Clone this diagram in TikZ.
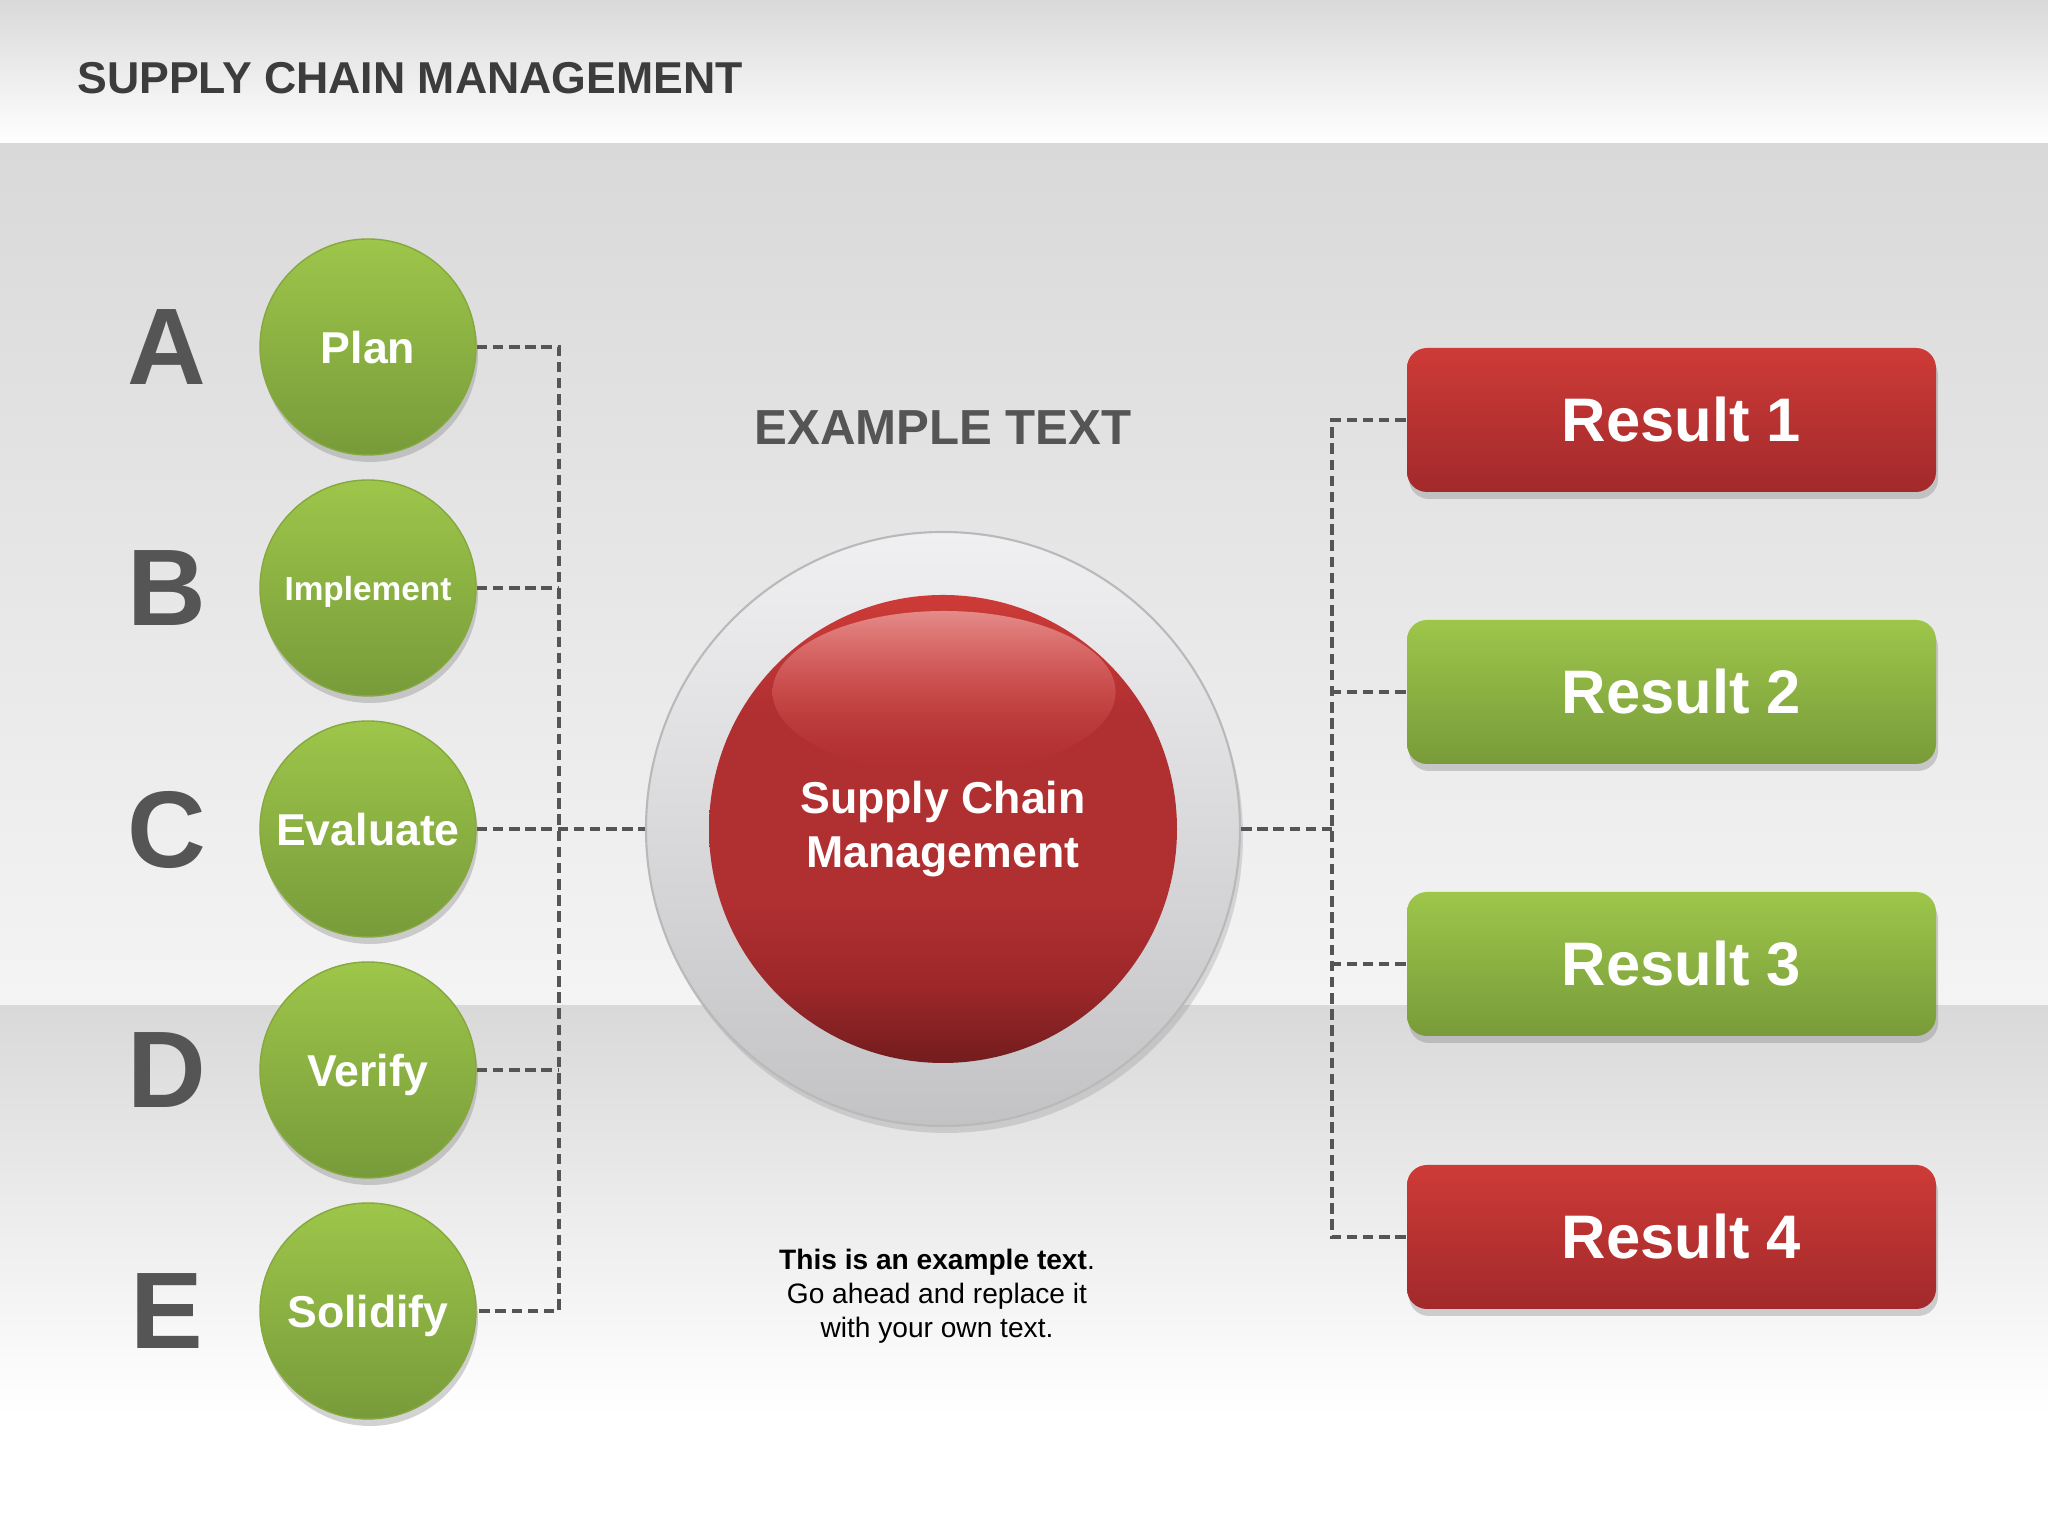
\documentclass[tikz,border=0pt]{standalone}
\usepackage{fontspec}
\setmainfont{Liberation Sans}
\usepackage{xcolor}
\usepackage{tikz}
\usetikzlibrary{positioning, calc, shadows, fadings, backgrounds}

\definecolor{greentop}{HTML}{9DC64A}
\definecolor{greenbot}{HTML}{789B3A}
\definecolor{redtop}{HTML}{CD3B37}
\definecolor{redbot}{HTML}{A2292B}
\definecolor{coremid}{HTML}{B02F31}
\definecolor{corelow}{HTML}{9C2729}
\definecolor{corebot}{HTML}{731C1E}
\definecolor{glosstop}{HTML}{E48C8A}
\definecolor{inktext}{HTML}{555555}
\definecolor{titletext}{HTML}{3C3C3C}
\definecolor{bgtop}{HTML}{D9D9D9}
\definecolor{bgmid}{HTML}{F4F4F5}
\definecolor{ringtop}{HTML}{F0F0F2}
\definecolor{ringbot}{HTML}{C3C3C6}

\pgfdeclareverticalshading{coreshade}{100bp}{color(0bp)=(corebot); color(25bp)=(corebot); color(33bp)=(corelow); color(42bp)=(coremid); color(62bp)=(coremid); color(75bp)=(redtop); color(100bp)=(redtop)}

\begin{document}
\begin{tikzpicture}[thick,
    stage/.style={circle, minimum size=2.16cm, inner sep=0pt, top color=greentop, bottom color=greenbot, draw=greentop!85!black, line width=0.4pt, text=white, text depth=0pt, font=\bfseries\fontsize{12.7}{15}\selectfont, drop shadow={opacity=0.35, shadow xshift=0.02cm, shadow yshift=-0.07cm}},
    letter/.style={text=inktext, text depth=0pt, font=\bfseries\fontsize{31}{31}\selectfont},
    result/.style={rectangle, rounded corners=0.2cm, minimum width=5.29cm, minimum height=1.44cm, inner sep=0pt, text=white, font=\bfseries\fontsize{17.5}{20}\selectfont, execute at begin node={\hspace*{0.2cm}}, drop shadow={opacity=0.35, shadow xshift=0.02cm, shadow yshift=-0.07cm}},
    redfill/.style={top color=redtop, bottom color=redbot},
    greenfill/.style={top color=greentop, bottom color=greenbot},
    link/.style={draw=inktext, line width=1.1pt, dash pattern=on 3pt off 1.6pt}]

    \useasboundingbox (0, 0) rectangle (20.48, 15.36);
    \shade [top color=bgtop, bottom color=white] (0, 13.92) rectangle (20.48, 15.36);
    \shade [top color=bgtop, bottom color=bgmid] (0, 5.30) rectangle (20.48, 13.92);
    \fill [white] (0, 0) rectangle (20.48, 5.30);
    \shade [top color=bgtop, bottom color=white] (0, 1.2) rectangle (20.48, 5.30);

    \node [text=titletext, text depth=0pt, font=\bfseries\fontsize{12.7}{15}\selectfont, anchor=west, inner sep=0pt] (title) at (0.76, 14.58) {SUPPLY CHAIN MANAGEMENT};

    \node [letter] (la) at (1.67, 11.89) {A};
    \node [letter] (lb) at (1.67, 9.48) {B};
    \node [letter] (lc) at (1.67, 7.07) {C};
    \node [letter] (ld) at (1.67, 4.66) {D};
    \node [letter] (le) at (1.67, 2.25) {E};

    \node [stage] (plan) at (3.68, 11.89) {Plan};
    \node [stage, font=\bfseries\fontsize{9.5}{11}\selectfont] (implement) at (3.68, 9.48) {Implement};
    \node [stage] (evaluate) at (3.68, 7.07) {Evaluate};
    \node [stage] (verify) at (3.68, 4.66) {Verify};
    \node [stage] (solidify) at (3.68, 2.25) {Solidify};

    \node [text=inktext, font=\bfseries\fontsize{14}{16}\selectfont] (example) at (9.43, 11.08) {EXAMPLE TEXT};

    \node [circle, minimum size=5.94cm, top color=ringtop, bottom color=ringbot, draw=gray!55, line width=0.6pt, drop shadow={opacity=0.25, shadow xshift=0.03cm, shadow yshift=-0.07cm}] (ring) at (9.43, 7.07) {};
    \node [circle, minimum size=4.68cm, shading=coreshade] (core) at (ring) {};
    \shade [top color=glosstop, bottom color=redtop, path fading=south] (9.44, 8.44) ellipse [x radius=1.715cm, y radius=0.81cm];
    \node [align=center, text=white, font=\bfseries\fontsize{12.7}{15.4}\selectfont] (corelabel) at (core) {Supply Chain\\Management};

    \node [result, redfill] (res1) at (16.715, 11.16) {Result 1};
    \node [result, greenfill] (res2) at (16.715, 8.44) {Result 2};
    \node [result, greenfill] (res3) at (16.715, 5.72) {Result 3};
    \node [result, redfill] (res4) at (16.715, 2.99) {Result 4};

    \node [align=center, font=\fontsize{8}{9.7}\selectfont] (note) at (9.37, 2.40) {\textbf{This is an example text}.\\Go ahead and replace it\\with your own text.};

    \coordinate (busL) at (5.59, 7.07);
    \coordinate (busR) at (13.32, 7.07);
    \draw [link] (plan.east) -- (plan.east -| busL) -- (solidify.east -| busL) -- (solidify.east);
    \draw [link] (implement.east) -- (implement.east -| busL);
    \draw [link] (verify.east) -- (verify.east -| busL);
    \draw [link] (evaluate.east) -- (ring.west);
    \draw [link] (ring.east) -- (busR);
    \draw [link] (res1.west) -- (res1.west -| busR) -- (res4.west -| busR) -- (res4.west);
    \draw [link] (res2.west) -- (res2.west -| busR);
    \draw [link] (res3.west) -- (res3.west -| busR);
\end{tikzpicture}
\end{document}
